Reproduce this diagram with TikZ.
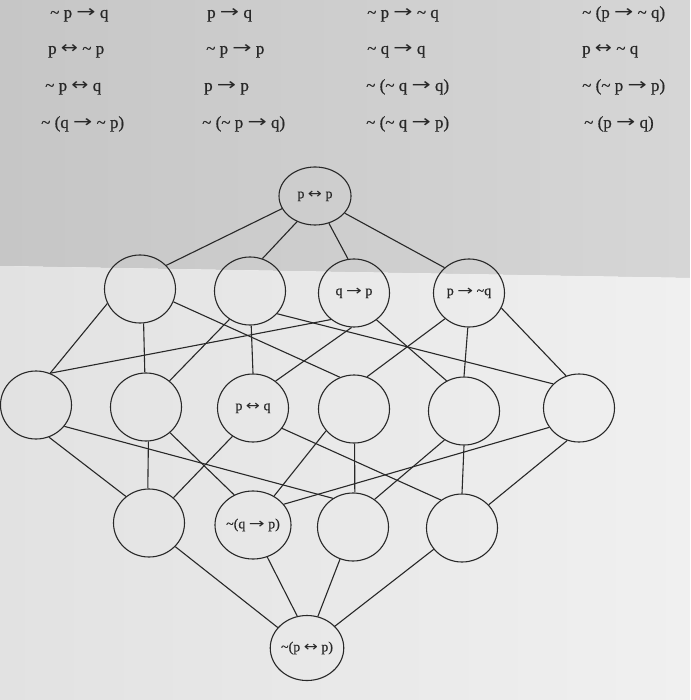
\documentclass[tikz,border=0pt]{standalone}
\usepackage{fontspec}
\usepackage{graphicx}
\setmainfont{Liberation Serif}[FakeBold=0.6]
\newfontfamily\arwfont{DejaVu Sans}
\usetikzlibrary{shapes.geometric}
\definecolor{ink}{RGB}{40,40,40}
\definecolor{paperTopL}{RGB}{198,198,198}
\definecolor{paperTopR}{RGB}{214,214,214}
\definecolor{paperBotL}{RGB}{226,226,226}
\definecolor{paperBotR}{RGB}{240,240,240}
\newcommand\tld{\textasciitilde}
\newcommand\myra{\scalebox{1.35}[1]{\arwfont →}}
\newcommand\mylr{\scalebox{1.2}[1]{\arwfont ↔}}
\begin{document}
\begin{tikzpicture}[x=1pt,y=-1pt,
  st/.style={ellipse, draw=ink, line width=1.1pt, minimum width=71pt, minimum height=68pt, inner sep=0pt, text=ink, font=\fontsize{14}{14}\selectfont},
  ln/.style={draw=ink, line width=1.1pt},
  lab/.style={anchor=west, inner sep=0pt, text height=12pt, text depth=4pt, text=ink, font=\fontsize{17}{17}\selectfont}]
% paper background
\shade[left color=paperTopL, right color=paperTopR] (0,0) -- (690,0) -- (690,278) -- (0,266) -- cycle;
\shade[left color=paperBotL, right color=paperBotR] (0,266) -- (690,278) -- (690,700) -- (0,700) -- cycle;
\useasboundingbox (0,0) rectangle (690,700);
% list of formulas
\node[lab] (t11) at (50,14) {\tld{} p \myra{} q};
\node[lab] (t12) at (48,50) {p \mylr{} \tld{} p};
\node[lab] (t13) at (45,87) {\tld{} p \mylr{} q};
\node[lab] (t14) at (41,124) {\tld{} (q \myra{} \tld{} p)};
\node[lab] (t21) at (207,14) {p \myra{} q};
\node[lab] (t22) at (206,50) {\tld{} p \myra{} p};
\node[lab] (t23) at (204,87) {p \myra{} p};
\node[lab] (t24) at (202,124) {\tld{} (\tld{} p \myra{} q)};
\node[lab] (t31) at (367,14) {\tld{} p \myra{} \tld{} q};
\node[lab] (t32) at (367,50) {\tld{} q \myra{} q};
\node[lab] (t33) at (366,87) {\tld{} (\tld{} q \myra{} q)};
\node[lab] (t34) at (366,124) {\tld{} (\tld{} q \myra{} p)};
\node[lab] (t41) at (582,14) {\tld{} (p \myra{} \tld{} q)};
\node[lab] (t42) at (582,50) {p \mylr{} \tld{} q};
\node[lab] (t43) at (582,87) {\tld{} (\tld{} p \myra{} p)};
\node[lab] (t44) at (584,124) {\tld{} (p \myra{} q)};
% lattice nodes
\node[st, minimum width=72pt, minimum height=58pt] (P) at (315,196) {p \mylr{} p};
\node[st] (A) at (140,289) {};
\node[st] (B) at (250,291) {};
\node[st] (C) at (354,293) {q \myra{} p};
\node[st] (D) at (469,293) {p \myra{} \tld q};
\node[st] (E) at (36,405) {};
\node[st] (F) at (146,407) {};
\node[st] (G) at (253,408) {p \mylr{} q};
\node[st] (H) at (354,409) {};
\node[st] (I) at (464,411) {};
\node[st] (J) at (579,408) {};
\node[st] (K) at (149,523) {};
\node[st] (L) at (253,525) {\tld(q \myra{} p)};
\node[st] (M) at (353,527) {};
\node[st] (N) at (462,528) {};
\node[st, minimum width=69pt, minimum height=65pt] (Z) at (307,648) {\tld(p \mylr{} p)};
% top to row 2
\draw[ln] (P.201) -- (A.42);
\draw[ln] (P.235) -- (B.69);
\draw[ln] (P.297) -- (C.100);
\draw[ln] (P.330) -- (D.134);
% row 2 to row 3
\draw[ln] (A.204) -- (E.66);
\draw[ln] (A.276) -- (F.92);
\draw[ln] (A.339) -- (H.114);
\draw[ln] (B.234) -- (F.48);
\draw[ln] (B.272) -- (G.90);
\draw[ln] (B.320) -- (J.137);
\draw[ln] (C.229) -- (E.66);
\draw[ln] (C.266) -- (G.50);
\draw[ln] (C.310) -- (I.120);
\draw[ln] (D.227) -- (H.68);
\draw[ln] (D.268) -- (I.90);
\draw[ln] (D.335) -- (J.112);
% row 3 to row 4
\draw[ln] (E.323) -- (M.125);
\draw[ln] (E.292) -- (K.131);
\draw[ln] (F.274) -- (K.92);
\draw[ln] (F.313) -- (L.122);
\draw[ln] (G.234) -- (K.46);
\draw[ln] (G.325) -- (N.127);
\draw[ln] (H.218) -- (L.54);
\draw[ln] (H.271) -- (M.87);
\draw[ln] (I.236) -- (M.52);
\draw[ln] (I.270) -- (N.90);
\draw[ln] (J.213) -- (L.34);
\draw[ln] (J.250) -- (N.41);
% row 4 to bottom
\draw[ln] (K.318) -- (Z.145);
\draw[ln] (L.294) -- (Z.107);
\draw[ln] (M.248) -- (Z.71);
\draw[ln] (N.217) -- (Z.38);
\end{tikzpicture}
\end{document}
